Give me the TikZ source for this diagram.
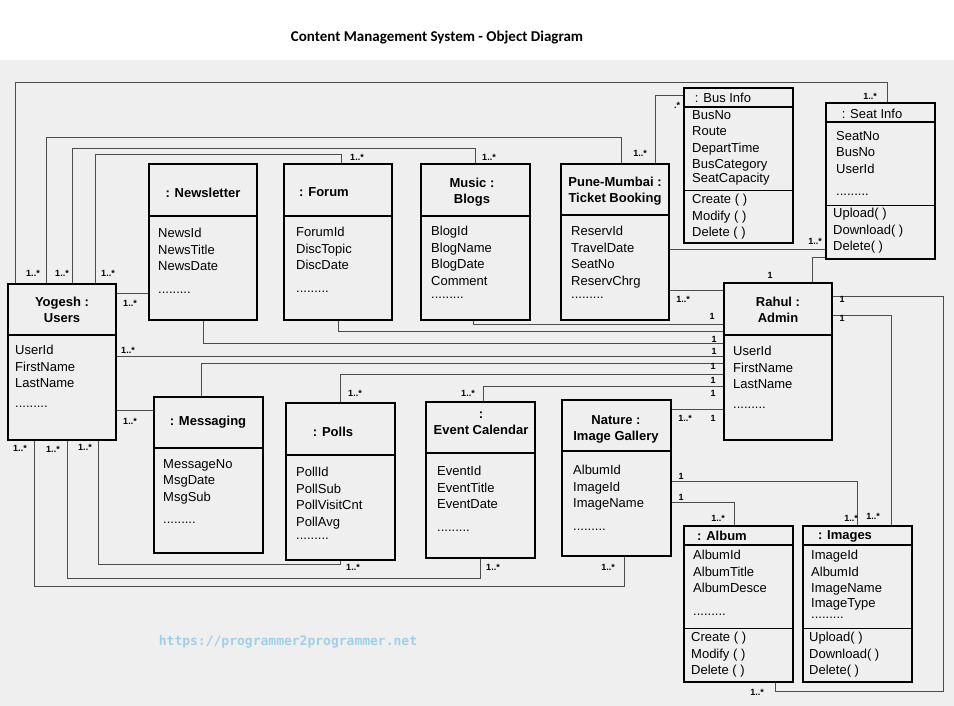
\documentclass[tikz,border=0pt]{standalone}
\usepackage{fontspec}
\setmainfont{Liberation Sans}
\newfontfamily\titlefont{Carlito}
\newfontfamily\urlfont{DejaVu Sans Mono}
\usetikzlibrary{positioning,fit,calc}
\definecolor{bg}{HTML}{EFEFEF}
\definecolor{wm}{HTML}{9FD0E8}
\tikzset{
  box/.style={draw,line width=2.2pt,inner sep=0pt,fit={#1}},
  hd/.style={font=\fontsize{13}{16}\selectfont\bfseries,align=center},
  att/.style={anchor=north west,inner sep=0pt,align=left,font=\fontsize{13}{16.5}\selectfont},
  mul/.style={font=\fontsize{9}{10}\selectfont\bfseries,inner sep=0pt},
  con/.style={line width=0.9pt,draw=black!70},
}
\newcommand{\divline}[3][1.8pt]{\draw[line width=#1] ([yshift=-#3]#2.north west) -- ([yshift=-#3]#2.north east);}
\begin{document}
\begin{tikzpicture}[x=1pt,y=-1pt]
      \useasboundingbox (0,0) rectangle (954,706);
      \fill[bg] (0,60) rectangle (954,706);
      \node at (437,38) (title) {\titlefont\fontsize{15}{18}\selectfont\bfseries Content Management System - Object Diagram};
      \node at (288,642) (url) {\urlfont\fontsize{13}{15}\selectfont\bfseries\color{wm}https://programmer2programmer.net};

      % boxes
      \node[box={(8,284)(116,440)}] (users) {};
      \node[box={(149,164)(257,320)}] (news) {};
      \node[box={(284,164)(392,320)}] (forum) {};
      \node[box={(421,164)(530,320)}] (blogs) {};
      \node[box={(561,164)(669,320)}] (ticket) {};
      \node[box={(684,88)(793,243)}] (bus) {};
      \node[box={(826,103)(935,259)}] (seat) {};
      \node[box={(724,283)(832,440)}] (admin) {};
      \node[box={(154,397)(263,553)}] (msg) {};
      \node[box={(286,403)(395,560)}] (polls) {};
      \node[box={(426,402)(535,558)}] (event) {};
      \node[box={(562,400)(671,556)}] (gallery) {};
      \node[box={(684,526)(793,682)}] (album) {};
      \node[box={(803,526)(912,682)}] (images) {};
      \divline{users}{52} \divline{news}{53} \divline{forum}{53} \divline{blogs}{53}
      \divline{ticket}{52} \divline{bus}{20} \divline[1pt]{bus}{104} \divline{seat}{20}
      \divline[1pt]{seat}{104} \divline{admin}{53} \divline{msg}{52} \divline{polls}{53}
      \divline{event}{52} \divline{gallery}{52} \divline{album}{20} \divline[1pt]{album}{104}
      \divline{images}{20} \divline[1pt]{images}{104}

      % headers
      \node[hd] at (62,310) (usersH) {Yogesh :\\Users};
      \node[hd] at (203,193) (newsH) {: Newsletter};
      \node[hd] at (324,192) (forumH) {: Forum};
      \node[hd] at (472,192) (blogsH) {Music :\\Blogs};
      \node[hd] at (615,191) (ticketH) {Pune-Mumbai :\\Ticket Booking};
      \node[hd,font=\fontsize{13}{16}\selectfont] at (723,98) (busH) {: Bus Info};
      \node[hd,font=\fontsize{13}{16}\selectfont] at (872,114) (seatH) {: Seat Info};
      \node[hd] at (778,310) (adminH) {Rahul :\\Admin};
      \node[hd] at (208,422) (msgH) {: Messaging};
      \node[hd] at (333,432) (pollsH) {: Polls};
      \node[hd] at (481,423) (eventH) {:\\Event Calendar};
      \node[hd] at (616,429) (galleryH) {Nature :\\Image Gallery};
      \node[hd] at (722,536) (albumH) {: Album};
      \node[hd] at (845,536) (imagesH) {: Images};

      % attributes
      \node[att] at (15,345) (usersA) {UserId\\FirstName\\LastName\\[3pt].........};
      \node[att] at (158,228) (newsA) {NewsId\\NewsTitle\\NewsDate\\[6pt].........};
      \node[att] at (296,227) (forumA) {ForumId\\DiscTopic\\DiscDate\\[6pt].........};
      \node[att] at (431,226) (blogsA) {BlogId\\BlogName\\BlogDate\\Comment\\[-3pt].........};
      \node[att] at (571,226) (ticketA) {ReservId\\TravelDate\\SeatNo\\ReservChrg\\[-3pt].........};
      \node[att] at (692,110) (busA) {BusNo\\Route\\DepartTime\\BusCategory\\[-3pt]SeatCapacity};
      \node[att] at (692,194) (busM) {Create ( )\\Modify ( )\\Delete ( )};
      \node[att] at (836,131) (seatA) {SeatNo\\BusNo\\UserId\\[6pt].........};
      \node[att] at (833,208) (seatM) {Upload( )\\Download( )\\Delete( )};
      \node[att] at (733,346) (adminA) {UserId\\FirstName\\LastName\\[3pt].........};
      \node[att] at (163,459) (msgA) {MessageNo\\MsgDate\\MsgSub\\[6pt].........};
      \node[att] at (296,467) (pollsA) {PollId\\PollSub\\PollVisitCnt\\PollAvg\\[-3pt].........};
      \node[att] at (437,466) (eventA) {EventId\\EventTitle\\EventDate\\[6pt].........};
      \node[att] at (573,465) (galleryA) {AlbumId\\ImageId\\ImageName\\[6pt].........};
      \node[att] at (693,550) (albumA) {AlbumId\\AlbumTitle\\AlbumDesce\\[6pt].........};
      \node[att] at (691,632) (albumM) {Create ( )\\Modify ( )\\Delete ( )};
      \node[att] at (811,550) (imagesA) {ImageId\\AlbumId\\ImageName\\[-2pt]ImageType\\[-5pt].........};
      \node[att] at (809,632) (imagesM) {Upload( )\\Download( )\\Delete( )};

      % connectors
      \draw[con] ([xshift=9]users.north west) -- ++(0,-200) -| ([xshift=63]seat.north west);
      \draw[con] ([xshift=40]users.north west) -- ++(0,-145) -| ([xshift=62]ticket.north west);
      \draw[con] ([xshift=66]users.north west) -- ++(0,-134) -| ([xshift=56]blogs.north west);
      \draw[con] ([xshift=89]users.north west) -- ++(0,-128) -| ([xshift=59]forum.north west);
      \draw[con] ([yshift=-11]users.north east) coordinate (u1) -- (u1 -| news.west);
      \draw[con] ([yshift=-74]users.north east) coordinate (u2) -- (u2 -| admin.west);
      \draw[con] ([yshift=-128]users.north east) coordinate (u3) -- (u3 -| msg.west);
      \draw[con] (news.south) |- ([yshift=-62]admin.north west);
      \draw[con] (forum.south) |- ([yshift=-50]admin.north west);
      \draw[con] ([xshift=54]blogs.south west) |- ([yshift=-43]admin.north west);
      \draw[con] ([yshift=-128]ticket.north east) coordinate (t1) -- (t1 -| admin.west);
      \draw[con] ([yshift=-87]ticket.north east) coordinate (t2) -- (t2 -| seat.west);
      \draw[con] ([xshift=96]ticket.north west) |- ([yshift=-9]bus.north west);
      \draw[con] ([xshift=49]msg.north west) |- ([yshift=-82]admin.north west);
      \draw[con] ([xshift=56]polls.north west) |- ([yshift=-93]admin.north west);
      \draw[con] ([xshift=59]event.north west) |- ([yshift=-105]admin.north west);
      \draw[con] ([yshift=-11]gallery.north east) coordinate (g1) -- (g1 -| admin.west);
      \draw[con] ([xshift=28]users.south west) -- ++(0,145) -| ([xshift=64]gallery.south west);
      \draw[con] ([xshift=61]users.south west) -- ++(0,137) -| ([xshift=56]event.south west);
      \draw[con] ([xshift=92]users.south west) -- ++(0,123) -| ([xshift=56]polls.south west);
      \draw[con] ([yshift=3]seat.south west) -| ([xshift=90]admin.north west);
      \draw[con] ([yshift=-15]admin.north east) -- ++(110,0) -- ++(0,395) -| ([xshift=93]album.south west);
      \draw[con] ([yshift=-34]admin.north east) -| ([xshift=90]images.north west);
      \draw[con] ([yshift=-83]gallery.north east) -| ([xshift=56]images.north west);
      \draw[con] ([yshift=-104]gallery.north east) -| ([xshift=52]album.north west);

      % multiplicities
      \foreach \p in {(33,273),(62,273),(108,273),(870,96),(640,153),(489,157),(357,157),
        (130,303),(128,350),(130,421),(20,448),(53,449),(85,447),(353,567),(493,567),
        (608,567),(815,241),(683,299),(685,418),(757,692),(873,516),(851,518),(718,518),
        (468,393),(355,393)}
        \node[mul] at \p {1..*};
      \node[mul] at (677,105) (busM1) {.*};
      \foreach \p in {(770,275),(712,316),(714,339),(714,351),(713,366),(713,380),(713,393),
        (713,418),(842,299),(842,318),(681,476),(681,497)}
        \node[mul] at \p {1};
    \end{tikzpicture}
\end{document}
